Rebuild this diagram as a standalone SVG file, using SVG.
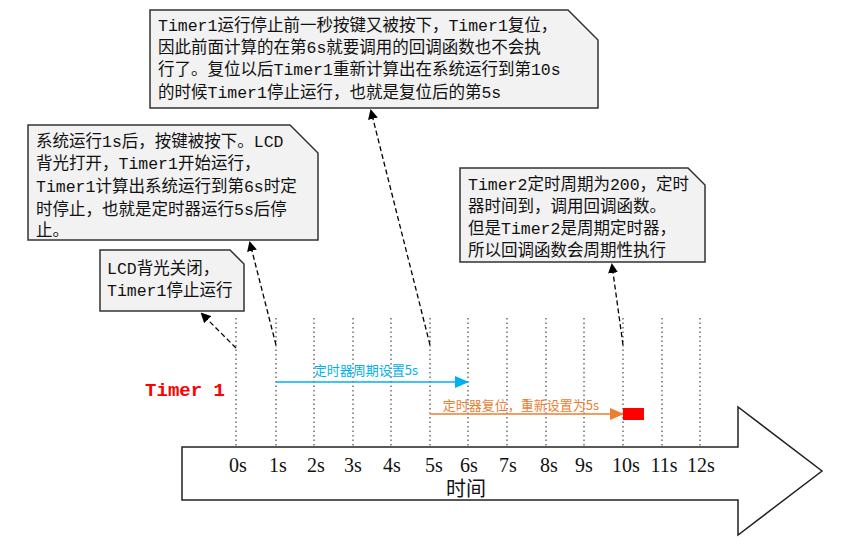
<svg xmlns="http://www.w3.org/2000/svg" width="847" height="550" viewBox="0 0 847 550">
<defs>
<style>
.note{fill:#f2f2f2;stroke:#333;stroke-width:1.5}
.nt{font-family:"Liberation Mono","Noto Sans CJK SC",monospace;font-size:16.5px;fill:#111}
.grid{stroke:#222;stroke-width:1;stroke-dasharray:1.5 3}
.lead{stroke:#000;stroke-width:1.3;stroke-dasharray:5 3;fill:none}
.tick{font-family:"Liberation Serif","Noto Sans CJK SC",serif;font-size:20px;fill:#111;text-anchor:middle}
</style>
<marker id="ab" markerWidth="10" markerHeight="10" refX="8" refY="5" orient="auto" markerUnits="userSpaceOnUse"><path d="M0,0L10,5L0,10z" fill="#000"/></marker>
<marker id="bl" markerWidth="14" markerHeight="12" refX="13" refY="6" orient="auto" markerUnits="userSpaceOnUse"><path d="M0,0L14,6L0,12z" fill="#00b0f0"/></marker>
<marker id="or" markerWidth="14" markerHeight="12" refX="13" refY="6" orient="auto" markerUnits="userSpaceOnUse"><path d="M0,0L14,6L0,12z" fill="#ed7d31"/></marker>
</defs>
<g id="timeline">
<path d="M182,447H738V407L822,471L738,535V500H182Z" fill="#fff" stroke="#222" stroke-width="1.5"/>
<text class="tick" x="238" y="472">0s</text><text class="tick" x="278" y="472">1s</text><text class="tick" x="316" y="472">2s</text><text class="tick" x="353" y="472">3s</text><text class="tick" x="392" y="472">4s</text><text class="tick" x="434" y="472">5s</text><text class="tick" x="469" y="472">6s</text><text class="tick" x="508" y="472">7s</text><text class="tick" x="549" y="472">8s</text><text class="tick" x="584" y="472">9s</text><text class="tick" x="626" y="472">10s</text><text class="tick" x="664" y="472">11s</text><text class="tick" x="701" y="472">12s</text>
<text class="tick" x="466" y="496">时间</text>
</g>
<g id="grid">
<line class="grid" x1="236" y1="318" x2="236" y2="446"/><line class="grid" x1="276" y1="318" x2="276" y2="446"/><line class="grid" x1="314" y1="318" x2="314" y2="446"/><line class="grid" x1="353" y1="318" x2="353" y2="446"/><line class="grid" x1="391" y1="318" x2="391" y2="446"/><line class="grid" x1="430" y1="318" x2="430" y2="446"/><line class="grid" x1="468" y1="318" x2="468" y2="446"/><line class="grid" x1="507" y1="318" x2="507" y2="446"/><line class="grid" x1="546" y1="318" x2="546" y2="446"/><line class="grid" x1="584" y1="318" x2="584" y2="446"/><line class="grid" x1="623" y1="318" x2="623" y2="446"/><line class="grid" x1="662" y1="318" x2="662" y2="446"/><line class="grid" x1="700" y1="318" x2="700" y2="446"/>
</g>
<text x="185" y="396" font-family="Liberation Mono,monospace" font-size="19" font-weight="bold" fill="#ff0000" text-anchor="middle">Timer 1</text>
<g id="connectors">
<line x1="276" y1="382" x2="468" y2="382" stroke="#00b0f0" stroke-width="1.5" marker-end="url(#bl)"/>
<text x="366" y="375" font-family="Noto Sans CJK SC,sans-serif" font-size="13" fill="#00b0f0" text-anchor="middle">定时器周期设置5s</text>
<line x1="430" y1="414" x2="623" y2="414" stroke="#ed7d31" stroke-width="1.5" marker-end="url(#or)"/>
<text x="521" y="410" font-family="Noto Sans CJK SC,sans-serif" font-size="13" fill="#ed7d31" text-anchor="middle">定时器复位，重新设置为5s</text>
<rect x="623" y="408" width="21" height="12" fill="#ff0000"/>
<path class="lead" d="M236,348L202,314" marker-end="url(#ab)"/>
<path class="lead" d="M276,345L250,243" marker-end="url(#ab)"/>
<path class="lead" d="M430,345L371,111" marker-end="url(#ab)"/>
<path class="lead" d="M623,345L612,265" marker-end="url(#ab)"/>
</g>
<g id="note1">
<path class="note" d="M150,10H568L598,40V108H150Z"/>
<text class="nt"><tspan x="158" y="31">Timer1运行停止前一秒按键又被按下，Timer1复位，</tspan><tspan x="158" y="53">因此前面计算的在第6s就要调用的回调函数也不会执</tspan><tspan x="158" y="75">行了。复位以后Timer1重新计算出在系统运行到第10s</tspan><tspan x="158" y="98">的时候Timer1停止运行，也就是复位后的第5s</tspan></text>
</g>
<g id="note2">
<path class="note" d="M28,125H290L318,153V240H28Z"/>
<text class="nt"><tspan x="36" y="147">系统运行1s后，按键被按下。LCD</tspan><tspan x="36" y="169">背光打开，Timer1开始运行，</tspan><tspan x="36" y="192">Timer1计算出系统运行到第6s时定</tspan><tspan x="36" y="215">时停止，也就是定时器运行5s后停</tspan><tspan x="36" y="236">止。</tspan></text>
</g>
<g id="note3">
<path class="note" d="M100,250H230L244,264V311H100Z"/>
<text class="nt"><tspan x="107" y="274">LCD背光关闭，</tspan><tspan x="107" y="296">Timer1停止运行</tspan></text>
</g>
<g id="note4">
<path class="note" d="M460,168H688L705,185V262H460Z"/>
<text class="nt"><tspan x="468" y="190">Timer2定时周期为200，定时</tspan><tspan x="468" y="212">器时间到，调用回调函数。</tspan><tspan x="468" y="234">但是Timer2是周期定时器，</tspan><tspan x="468" y="256">所以回调函数会周期性执行</tspan></text>
</g>
</svg>
